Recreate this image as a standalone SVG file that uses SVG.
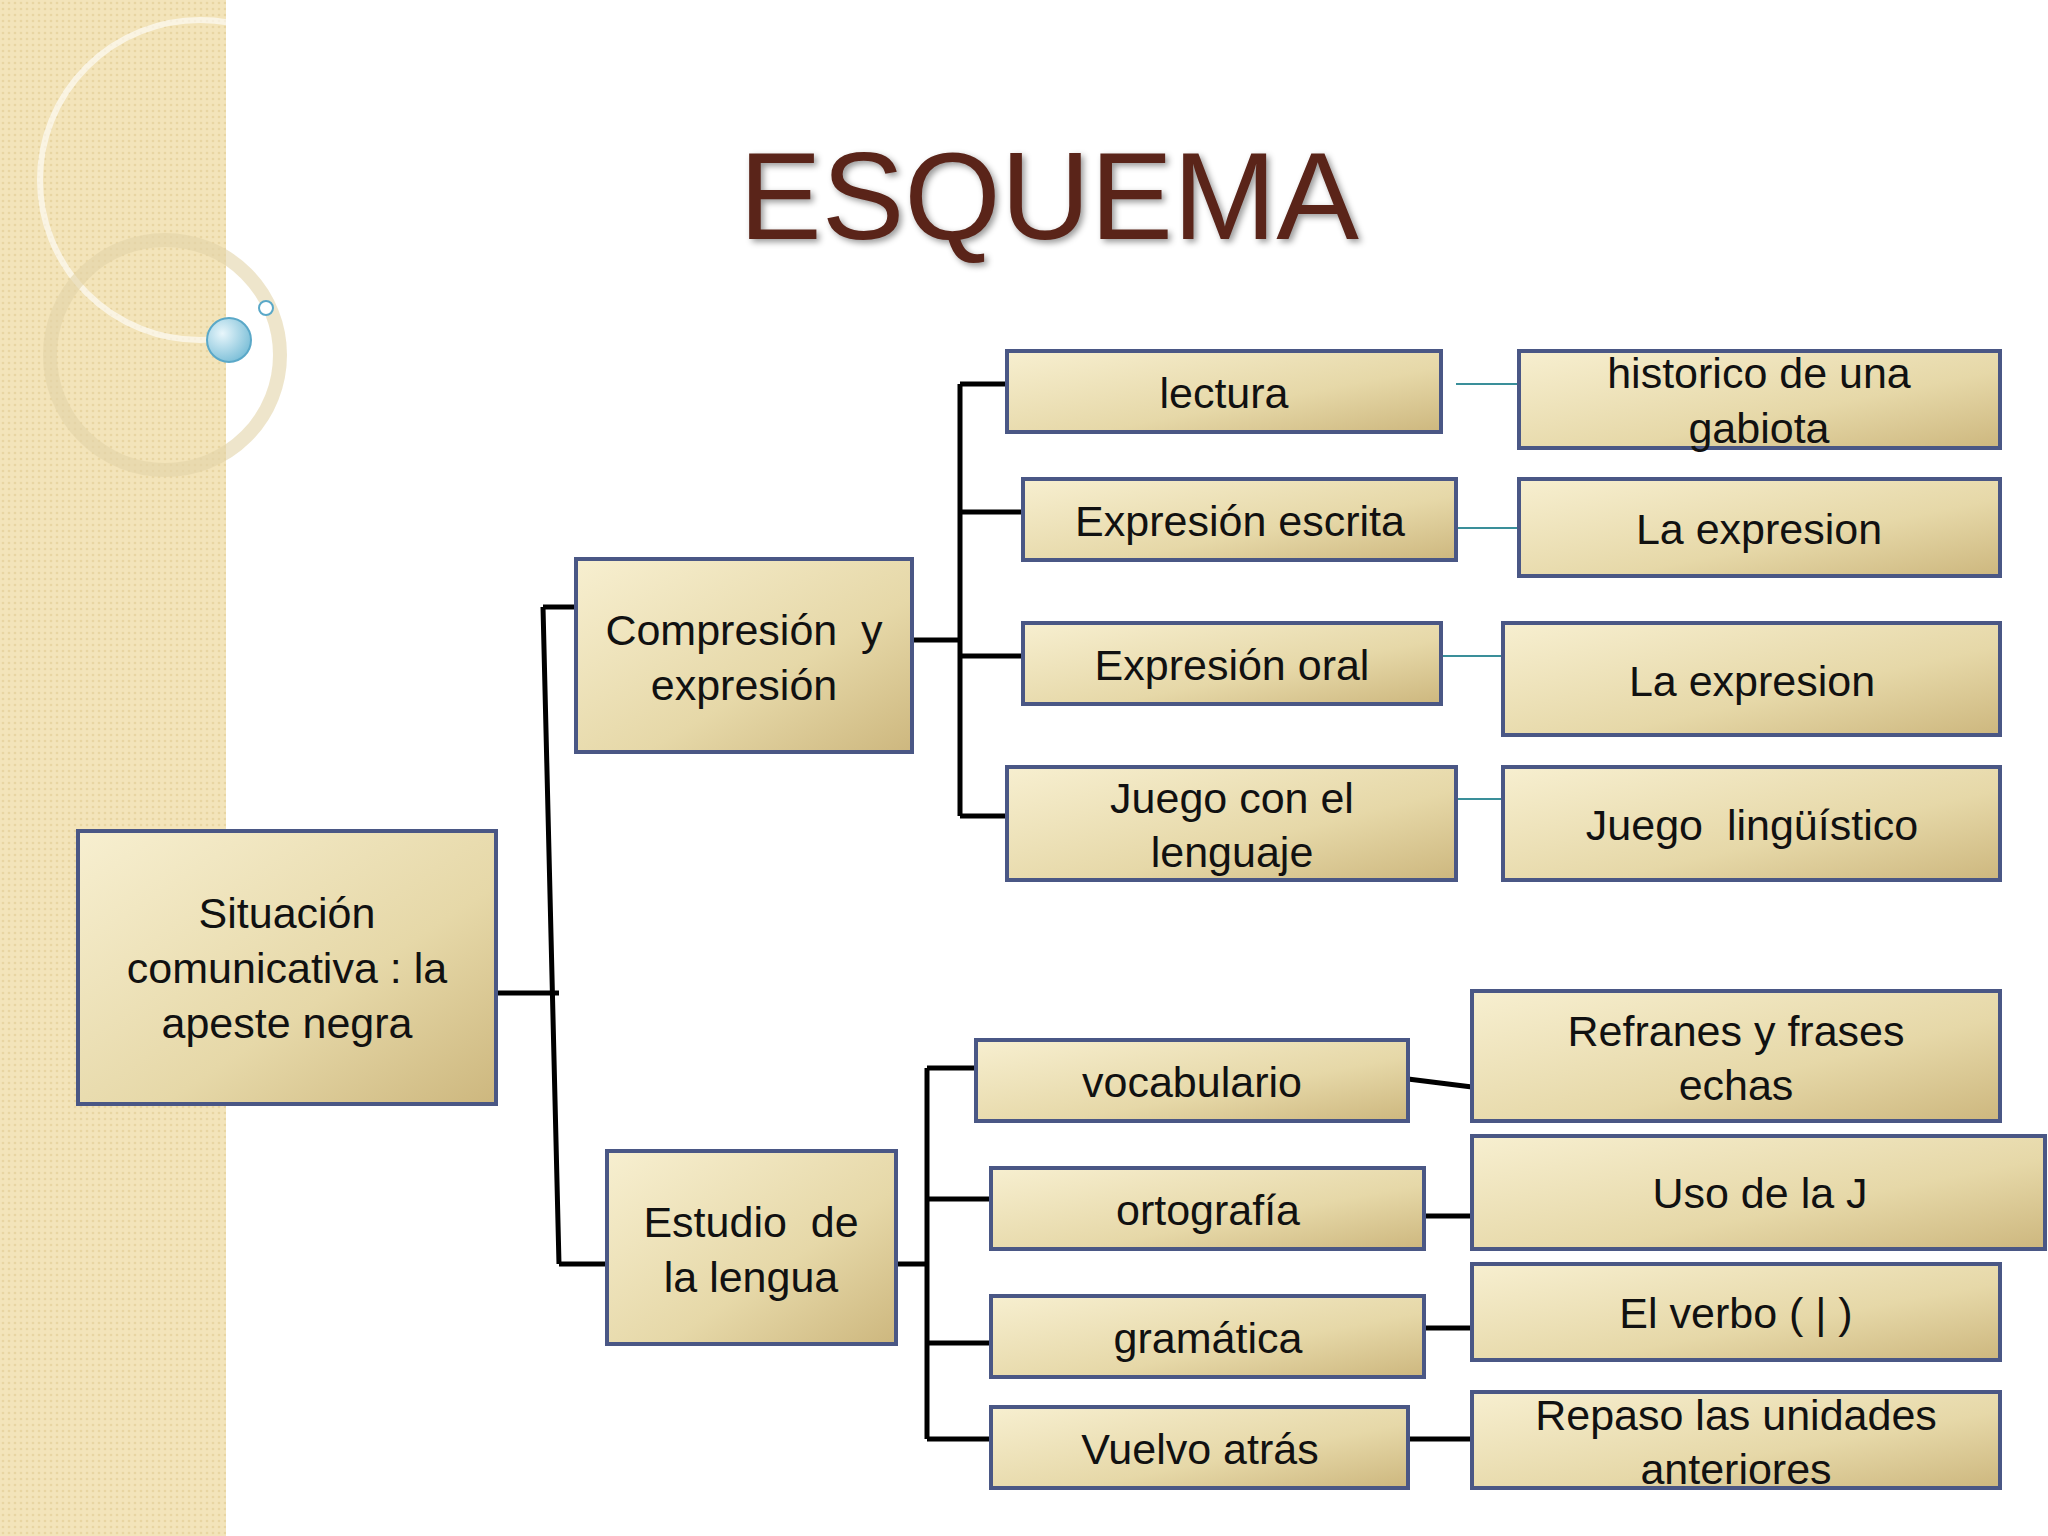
<svg xmlns="http://www.w3.org/2000/svg" width="2048" height="1536" viewBox="0 0 2048 1536">
<defs>
<linearGradient id="g" x1="0" y1="0" x2="1" y2="1"><stop offset="0" stop-color="#f7efd0"/><stop offset="0.6" stop-color="#e6d8a8"/><stop offset="1" stop-color="#cdb77e"/></linearGradient>
<pattern id="pt" width="6" height="6" patternUnits="userSpaceOnUse"><rect width="6" height="6" fill="#f3e4ba"/><circle cx="3" cy="3" r="1.3" fill="#e8d5a2"/></pattern>
<radialGradient id="bub" cx="0.35" cy="0.35" r="0.7"><stop offset="0" stop-color="#e8f6fb"/><stop offset="1" stop-color="#7cbfd8"/></radialGradient>
</defs>
<style>
.b rect{fill:url(#g);stroke:#4a5785;stroke-width:4}
.b text{font-family:"Liberation Sans",Arial,sans-serif;font-size:43px;fill:#111;text-anchor:middle;white-space:pre}
.k{stroke:#000;stroke-width:5;fill:none}
.t{stroke:#3a8f9a;stroke-width:2;fill:none}
</style>
<rect width="2048" height="1536" fill="#fff"/>
<rect x="0" y="0" width="226" height="1536" fill="url(#pt)"/>
<g fill="none" stroke="#fff" stroke-opacity="0.6" stroke-width="6">
<circle cx="200" cy="180" r="160"/>
<circle cx="165" cy="355" r="115" stroke="#e2d3a8" stroke-width="14"/>
</g>
<circle cx="229" cy="340" r="22" fill="url(#bub)" stroke="#5aa8c8" stroke-width="2"/>
<circle cx="266" cy="308" r="7" fill="#fff" stroke="#5aa8c8" stroke-width="2"/>
<text x="1049" y="239" font-family="Liberation Sans,Arial,sans-serif" font-size="124" fill="#5a2419" text-anchor="middle" style="filter:drop-shadow(3px 3px 3px rgba(0,0,0,0.4))">ESQUEMA</text>
<g id="connectors">
<path class="k" d="M496,993H559M543,607L559,1264M543,607H576M559,1264H607"/>
<path class="k" d="M912,640H960M960,384V816M960,384H1007M960,512H1023M960,656H1023M960,816H1007"/>
<path class="k" d="M896,1264H927M927,1068V1439M927,1068H976M927,1199H991M927,1343H991M927,1439H991"/>
<path class="t" d="M1456,384H1519M1456,528H1519M1441,656H1503M1441,799H1503"/>
<path class="k" d="M1408,1079L1472,1087M1424,1216H1472M1424,1328H1472M1408,1439H1472"/>
</g>
<g id="n1" class="b"><rect x="78" y="831" width="418" height="273"/><text x="287" y="928">Situación</text><text x="287" y="983">comunicativa : la</text><text x="287" y="1038">apeste negra</text></g>
<g id="n2" class="b"><rect x="576" y="559" width="336" height="193"/><text x="744" y="645">Compresión  y</text><text x="744" y="700">expresión</text></g>
<g id="n3" class="b"><rect x="607" y="1151" width="289" height="193"/><text x="751" y="1237">Estudio  de</text><text x="751" y="1292">la lengua</text></g>
<g id="n4" class="b"><rect x="1007" y="351" width="434" height="81"/><text x="1224" y="408">lectura</text></g>
<g id="n5" class="b"><rect x="1023" y="479" width="433" height="81"/><text x="1240" y="536">Expresión escrita</text></g>
<g id="n6" class="b"><rect x="1023" y="623" width="418" height="81"/><text x="1232" y="680">Expresión oral</text></g>
<g id="n7" class="b"><rect x="1007" y="767" width="449" height="113"/><text x="1232" y="813">Juego con el</text><text x="1232" y="867">lenguaje</text></g>
<g id="n8" class="b"><rect x="1519" y="351" width="481" height="97"/><text x="1759" y="388">historico de una</text><text x="1759" y="443">gabiota</text></g>
<g id="n9" class="b"><rect x="1519" y="479" width="481" height="97"/><text x="1759" y="544">La expresion</text></g>
<g id="n10" class="b"><rect x="1503" y="623" width="497" height="112"/><text x="1752" y="696">La expresion</text></g>
<g id="n11" class="b"><rect x="1503" y="767" width="497" height="113"/><text x="1752" y="840">Juego  lingüístico</text></g>
<g id="n12" class="b"><rect x="976" y="1040" width="432" height="81"/><text x="1192" y="1097">vocabulario</text></g>
<g id="n13" class="b"><rect x="991" y="1168" width="433" height="81"/><text x="1208" y="1225">ortografía</text></g>
<g id="n14" class="b"><rect x="991" y="1296" width="433" height="81"/><text x="1208" y="1353">gramática</text></g>
<g id="n15" class="b"><rect x="991" y="1407" width="417" height="81"/><text x="1200" y="1464">Vuelvo atrás</text></g>
<g id="n16" class="b"><rect x="1472" y="991" width="528" height="130"/><text x="1736" y="1046">Refranes y frases</text><text x="1736" y="1100">echas</text></g>
<g id="n17" class="b"><rect x="1472" y="1136" width="573" height="113"/><text x="1760" y="1208">Uso de la J</text></g>
<g id="n18" class="b"><rect x="1472" y="1264" width="528" height="96"/><text x="1736" y="1328">El verbo ( | )</text></g>
<g id="n19" class="b"><rect x="1472" y="1392" width="528" height="96"/><text x="1736" y="1430">Repaso las unidades</text><text x="1736" y="1484">anteriores</text></g>
</svg>
